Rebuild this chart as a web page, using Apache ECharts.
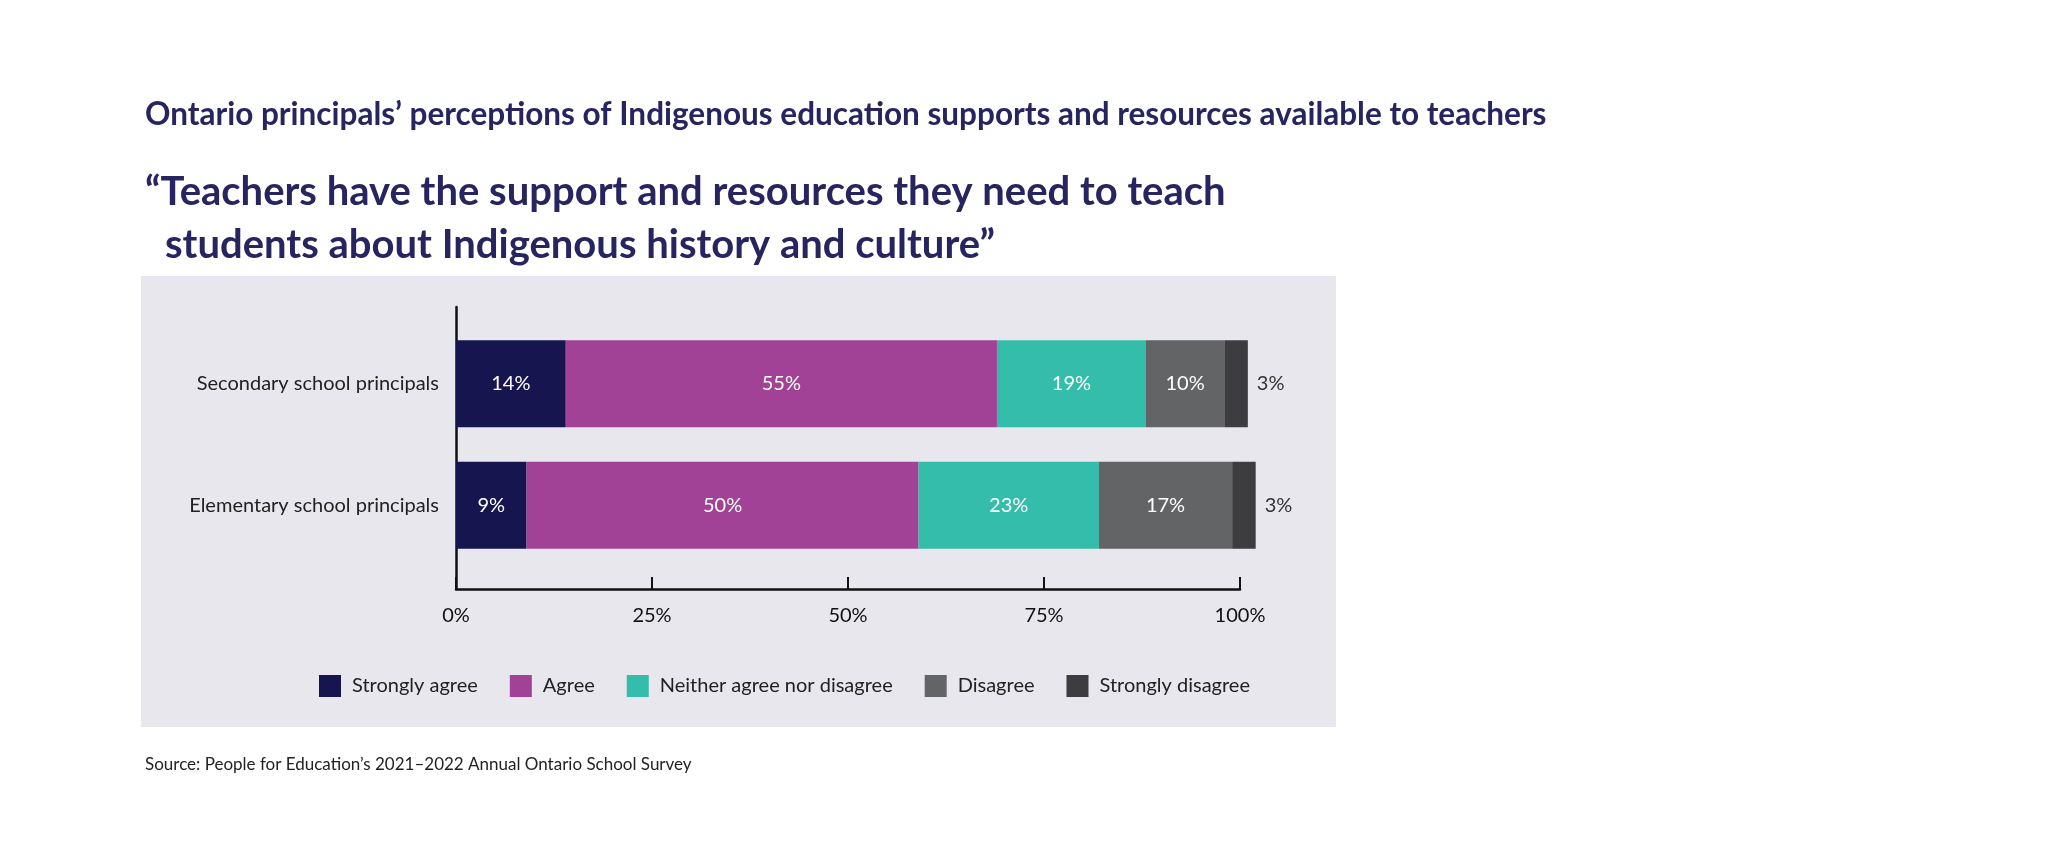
<!DOCTYPE html>
<html>
<head>
<meta charset="utf-8">
<script src="https://cdn.jsdelivr.net/npm/echarts@6/dist/echarts.min.js"></script>
<style>
html,body{margin:0;padding:0;background:#fff;}
#chart{width:2048px;height:866px;}
</style>
</head>
<body>
<div id="chart"></div>
<script>
const categories = ['Secondary school principals', 'Elementary school principals'];
const seriesNames = ['Strongly agree', 'Agree', 'Neither agree nor disagree', 'Disagree', 'Strongly disagree'];
const stronglyAgree = [14, 9];
const agree = [55, 50];
const neither = [19, 23];
const disagree = [10, 17];
const stronglyDisagree = [3, 3];
const xTicks = [0, 25, 50, 75, 100];
const colors = ['#16154f', '#a24296', '#33bdaa', '#636466', '#3d3d3f'];

const FONT = 'Lato';
const chart = echarts.init(document.getElementById('chart'));
const values = [stronglyAgree, agree, neither, disagree, stronglyDisagree];

const series = values.map((v, i) => ({
  name: seriesNames[i],
  type: 'bar',
  stack: 'total',
  xAxisIndex: 0,
  yAxisIndex: 0,
  barWidth: 87,
  clip: false,
  data: v,
  itemStyle: { color: colors[i] },
  label: {
    show: true,
    position: i === 4 ? 'right' : 'inside',
    distance: 9,
    formatter: '{c}%',
    color: i === 4 ? '#333' : '#fff',
    fontFamily: FONT,
    fontSize: 20
  }
}));

chart.setOption({
  backgroundColor: '#fff',
  animation: false,
  textStyle: { fontFamily: FONT },
  graphic: [{
    type: 'rect', z: -1,
    shape: { x: 141, y: 276, width: 1195, height: 451 },
    style: { fill: '#e8e7ed' }
  }],
  title: [
    { text: 'Ontario principals\u2019 perceptions of Indigenous education supports and resources available to teachers',
      left: 140, top: 94, textStyle: { fontFamily: FONT, fontWeight: 'bold', fontSize: 31.5, color: '#26255f' } },
    { text: '\u201CTeachers have the support and resources they need to teach',
      left: 140, top: 167, textStyle: { fontFamily: FONT, fontWeight: 'bold', fontSize: 40, color: '#26255f' } },
    { text: 'students about Indigenous history and culture\u201D',
      left: 160, top: 220, textStyle: { fontFamily: FONT, fontWeight: 'bold', fontSize: 40, color: '#26255f' } },
    { text: 'Source: People for Education\u2019s 2021\u20132022 Annual Ontario School Survey',
      left: 140, top: 751, textStyle: { fontFamily: FONT, fontWeight: 'normal', fontSize: 17, color: '#222' } }
  ],
  legend: {
    data: seriesNames,
    left: 314, top: 670,
    itemWidth: 22, itemHeight: 22, itemGap: 32,
    icon: 'rect',
    textStyle: { fontFamily: FONT, fontSize: 20, color: '#222', padding: [0, 0, 0, 6] }
  },
  grid: [
    { left: 456, top: 323, width: 784, height: 243, containLabel: false },
    { left: 456, top: 307, width: 784, height: 282, containLabel: false }
  ],
  xAxis: [
    { type: 'value', gridIndex: 0, min: 0, max: 100, interval: 25, offset: 23,
      axisLine: { show: true, lineStyle: { color: '#111', width: 2.5 } },
      axisTick: { show: true, inside: true, length: 12, lineStyle: { color: '#111', width: 2 } },
      splitLine: { show: false },
      axisLabel: { margin: 17, fontFamily: FONT, fontSize: 20, color: '#111',
        formatter: v => xTicks.indexOf(v) >= 0 ? v + '%' : '' } },
    { type: 'value', gridIndex: 1, show: false, min: 0, max: 1 }
  ],
  yAxis: [
    { type: 'category', gridIndex: 0, data: categories, inverse: true,
      axisLine: { show: false }, axisTick: { show: false },
      axisLabel: { margin: 17, fontFamily: FONT, fontSize: 20, color: '#222' } },
    { type: 'value', gridIndex: 1, min: 0, max: 1,
      axisLine: { show: true, lineStyle: { color: '#111', width: 2.5 } },
      axisTick: { show: false }, axisLabel: { show: false }, splitLine: { show: false } }
  ],
  series: series
});
</script>
</body>
</html>
